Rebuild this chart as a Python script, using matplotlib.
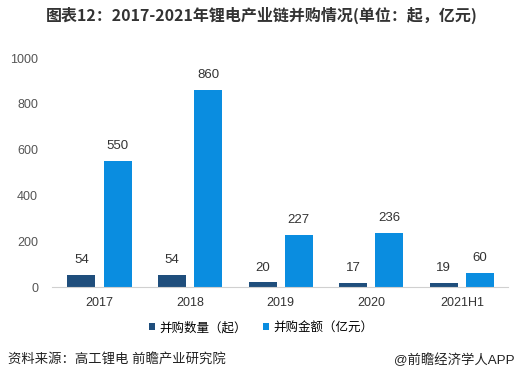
import matplotlib.pyplot as plt
import numpy as np

plt.rcParams['font.family'] = ['Liberation Sans', 'Noto Sans CJK SC', 'DejaVu Sans']

years = ['2017', '2018', '2019', '2020', '2021H1']
deal_count = [54, 54, 20, 17, 19]
deal_amount = [550, 860, 227, 236, 60]

dark = '#1f4e7c'
blue = '#0a8de0'

fig = plt.figure(figsize=(5.23, 3.84), dpi=100)
ax = fig.add_axes([0.0994, 0.2526, 0.872, 0.596])

x = np.arange(len(years))
w = 0.31
b1 = ax.bar(x - 0.2, deal_count, w, color=dark, label='并购数量（起）')
b2 = ax.bar(x + 0.2, deal_amount, w, color=blue, label='并购金额（亿元）')

# value labels above bars
for bars, vals in [(b1, deal_count), (b2, deal_amount)]:
    for rect, v in zip(bars, vals):
        ax.text(rect.get_x() + rect.get_width() / 2, v + 65, str(v),
                ha='center', va='center', fontsize=9.5, color='#333333')

ax.set_ylim(0, 1000)
ax.set_yticks(range(0, 1001, 200))
ax.set_xlim(-0.525, 4.51)
ax.set_xticks(x)
ax.set_xticklabels(years)
ax.tick_params(axis='y', length=0, labelsize=9, colors='#555555', pad=10)
ax.tick_params(axis='x', length=0, labelsize=9, colors='#333333', pad=7)
for s in ['top', 'right', 'left']:
    ax.spines[s].set_visible(False)
ax.spines['bottom'].set_color('#d0d0d0')

leg = ax.legend(loc='center', ncol=2, frameon=False,
                fontsize=9, handlelength=0.5, handleheight=0.5, columnspacing=1.3,
                handletextpad=0.3)
leg.set_bbox_to_anchor((261 / 523, 1 - 328 / 384), transform=fig.transFigure)

fig.text(0.5, 0.961, '图表12：2017-2021年锂电产业链并购情况(单位：起，亿元)',
         ha='center', va='center', fontsize=11.5, fontweight='bold', color='#333333',
         family=['Noto Sans CJK SC', 'DejaVu Sans'])
fig.text(8 / 523, 1 - 360 / 384, '资料来源：高工锂电 前瞻产业研究院', ha='left', va='center',
         fontsize=9.6, color='#222222')
fig.text(515 / 523, 1 - 360 / 384, '@前瞻经济学人APP', ha='right', va='center',
         fontsize=9.6, color='#222222')

fig.savefig('out.png', dpi=100)
